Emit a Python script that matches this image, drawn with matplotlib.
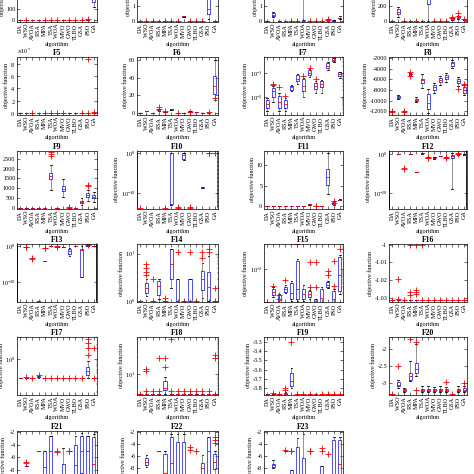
import matplotlib
matplotlib.use('Agg')
import matplotlib.pyplot as plt
from matplotlib.ticker import FixedLocator, ScalarFormatter, LogLocator, NullFormatter, FuncFormatter

plt.rcParams['font.family'] = ['Liberation Serif', 'DejaVu Serif']
plt.rcParams['mathtext.fontset'] = 'stix'

ALGS = ['DA', 'WSO', 'AVOA', 'RSA', 'MPA', 'TSA', 'WOA', 'MVO', 'GWO', 'TLBO', 'GSA', 'PSO', 'GA']

# box stats per algorithm: (whisker low, q1, median, q3, whisker high); None = no box in view
Z = (0, 0, 0, 0, 0)

F1_box = [Z, Z, Z, Z, Z, Z, Z, Z, Z, Z, Z, Z, (120, 170, 230, 300, 420)]
F1_out = [[], [0], [], [], [0], [0], [0], [], [0], [0], [0], [8], []]

F2_box = [Z, Z, Z, Z, Z, Z, Z, (0.25, 0.28, 0.3, 0.33, 0.36), Z, Z, Z, (0.1, 0.45, 0.8, 2.2, 3.6), Z]
F2_out = [[], [0], [0], [], [0], [0], [0], [], [0], [0], [0], [], []]

F3_box = [Z, (0.25, 0.32, 0.4, 0.5, 0.6), Z, Z, Z, Z, (0, 0, 0.02, 0.05, 4.5), Z, Z, Z,
          (0.03, 0.04, 0.05, 0.07, 0.1), (0.02, 0.025, 0.03, 0.035, 0.04), (0.15, 0.18, 0.2, 0.23, 0.3)]
F3_out = [[], [], [], [], [0], [0], [], [0], [0], [0], [0.08, 0.12], [], []]

F4_box = [Z, (60, 90, 120, 160, 190), Z, Z, Z, Z, (0, 230, 400, 600, 750), Z, Z, Z,
          (15, 20, 30, 40, 50), (30, 40, 50, 60, 70), (15, 18, 20, 25, 30)]
F4_out = [[], [], [0], [], [0], [], [], [0], [0], [0], [40, 55], [75, 110], [30]]

F5_box = [Z, Z, Z, Z, Z, Z, Z, Z, Z, Z, Z, Z, Z]
F5_out = [[], [], [0.05e7], [], [0.05e7], [0.05e7], [0.05e7], [0.05e7], [], [], [0.05e7],
          [0.1e7, 8.7e7], [0.2e7]]

F6_box = [Z, (2, 2, 2.5, 3, 3), Z, (3, 3.5, 4, 4.5, 5), (1, 1, 1, 1, 1), (4, 4, 4.5, 5, 5), Z, Z,
          (1, 1, 1.5, 2, 2), (1, 1, 1.2, 1.5, 1.5), Z, Z, (15, 22, 31, 42, 60)]
F6_out = [[], [], [], [5, 6.5], [2], [], [0.5], [], [1], [], [], [1.2], [17]]

F7_box = [(2.5e-3, 3.3e-3, 5e-3, 7.4e-3, 9e-3), (6e-3, 0.01, 0.017, 0.0246, 0.03),
          (2.5e-3, 3.3e-3, 6e-3, 0.011, 0.014), (2.5e-3, 3.3e-3, 4.8e-3, 7.4e-3, 9e-3),
          (0.018, 0.02, 0.025, 0.03, 0.033), (0.035, 0.045, 0.06, 0.082, 0.09),
          (0.01, 0.017, 0.03, 0.055, 0.065), (0.07, 0.082, 0.1, 0.135, 0.15),
          (0.015, 0.022, 0.03, 0.037, 0.045), (0.015, 0.025, 0.035, 0.045, 0.05),
          (0.14, 0.165, 0.21, 0.27, 0.3), (0.3, 0.33, 0.38, 0.45, 0.47), (0.065, 0.074, 0.09, 0.11, 0.12)]
F7_out = [[], [0.033, 0.036], [0.025], [0.011], [], [], [0.074], [0.165], [0.055], [], [], [0.55], []]

F8_box = [(-12050, -12020, -12000, -11980, -11950), (-9700, -9500, -9300, -9150, -9000),
          (-12050, -12020, -12000, -11980, -11950), (-5100, -5050, -5000, -4950, -4900),
          (-10300, -10050, -9800, -9600, -9400), (-7600, -6600, -6200, -5900, -5000),
          (-12400, -11500, -10500, -8700, -7800), (-8500, -7950, -7500, -7100, -6700),
          (-7000, -6500, -6100, -5700, -5300), (-6500, -6000, -5600, -5150, -4900),
          (-3900, -3500, -3000, -2700, -2400), (-7200, -6700, -6400, -6000, -5600),
          (-8900, -8500, -8000, -7400, -7000)]
F8_out = [[-12000, -12150], [], [-12000, -12150], [-4700, -5300], [], [], [], [], [], [], [],
          [-7800], [-6800, -7100]]

F9_box = [Z, Z, Z, Z, Z, (900, 1450, 1600, 1800, 2200), Z, (550, 850, 950, 1100, 1450), Z, Z,
          (150, 230, 300, 350, 500), (350, 530, 650, 750, 900), (300, 480, 570, 650, 800)]
F9_out = [[], [], [], [], [], [2650, 2750, 2850], [], [], [0, 30], [], [], [1100, 1150], []]

F10_box = [None, None, None, None, None, (1e-13, 1.8e-13, 0.9, 1.0, 1.0), None,
           (0.02, 0.04, 0.3, 1.0, 1.0), None, None, (2e-9, 2.2e-9, 2.5e-9, 2.8e-9, 3e-9),
           (0.8, 0.9, 1.0, 1.0, 1.0), None]
F10_out = [[1.5e-14], [], [], [], [1.5e-14], [], [2e-14, 3e-14], [], [2e-14, 4e-14], [], [],
           [1.0, 1.1], [1.0]]

F11_box = [Z, Z, Z, Z, Z, Z, Z, (0.35, 0.4, 0.45, 0.5, 0.55), Z, Z, (3, 5.2, 7.2, 9, 13),
           (0.3, 0.5, 0.7, 0.9, 1.2), (1.4, 1.5, 1.55, 1.6, 1.7)]
F11_out = [[], [], [], [], [], [], [], [], [0, 0.1], [], [], [0.8, 1.3], []]

F12_box = [None, (0.8, 0.9, 1.0, 1.0, 1.0), None, (0.8, 0.9, 1.0, 1.0, 1.0),
           (5e-10, 6e-10, 7e-10, 8e-10, 9e-10), (1.5, 1.8, 2.0, 2.2, 2.5),
           (0.005, 0.008, 0.01, 0.013, 0.02), (0.003, 0.006, 0.01, 0.02, 0.04),
           (0.05, 0.07, 0.1, 0.12, 0.15), (0.005, 0.008, 0.01, 0.013, 0.02),
           (1e-18, 0.01, 0.08, 0.5, 2.0), (0.5, 0.8, 1.0, 1.5, 2.0), (0.3, 0.4, 0.5, 0.6, 0.7)]
F12_out = [[], [], [2e-8, 1e-7], [], [], [], [0.005, 0.02, 0.01], [], [], [0.01, 0.02], [],
           [1.0, 3.0], []]

F13_box = [None, (0.2, 0.25, 0.3, 0.35, 0.4), None, (2e-31, 2.5e-31, 3e-31, 4e-31, 5e-31),
           (3e-9, 4e-9, 5e-9, 6e-9, 7e-9), (0.9, 1.0, 1.0, 1.0, 1.1), (0.15, 0.2, 0.25, 0.3, 0.35),
           (0.2, 0.25, 0.3, 0.35, 0.4), (3e-6, 4e-5, 1e-3, 0.02, 0.05), (0.9, 1.0, 1.0, 1.0, 1.1),
           (5e-18, 6e-18, 0.01, 0.03, 1.0), (1.0, 1.5, 2.0, 2.5, 3.0), (0.9, 1.0, 1.0, 1.0, 1.1)]
F13_out = [[], [0.3, 0.25], [6e-8, 1.5e-7], [], [0.1, 0.08], [], [0.5, 0.6], [], [], [], [],
           [5, 8], []]

F14_box = [(0.998, 0.998, 0.998, 0.998, 0.998), (1.3, 1.5, 1.9, 2.4, 3.0),
           (0.998, 0.998, 0.998, 0.998, 0.998), (1.1, 1.33, 2.15, 2.7, 3.0),
           (0.998, 0.998, 0.998, 0.998, 0.998), (1.9, 2.9, 6.0, 12.7, 12.7),
           (0.998, 0.998, 0.998, 2.9, 2.9), (0.998, 0.998, 0.998, 0.998, 0.998),
           (0.998, 0.998, 0.998, 2.9, 2.9), (0.998, 0.998, 0.998, 0.998, 0.998),
           (1.2, 1.7, 3.0, 4.4, 6.5), (0.998, 0.998, 2.0, 4.2, 9.0), (0.998, 0.998, 0.998, 0.998, 0.998)]
F14_out = [[], [3.5, 4.2, 4.9, 6.2], [2.9, 1.0], [], [1.15, 1.0], [], [10.8], [1.0], [10.8], [1.0],
           [8.0, 11.0], [11.0, 12.7], [1.95, 1.0]]

F15_box = [None, (1.6e-3, 1.8e-3, 2.2e-3, 2.7e-3, 3.0e-3), (1.13e-3, 1.15e-3, 1.3e-3, 1.8e-3, 1.9e-3),
           (2.0e-3, 2.2e-3, 2.6e-3, 3.0e-3, 3.4e-3), (1.2e-3, 1.35e-3, 2.0e-3, 3.9e-3, 4.5e-3),
           (1.2e-3, 1.35e-3, 2.6e-3, 0.0174, 0.02), (1.2e-3, 1.35e-3, 1.9e-3, 2.7e-3, 3.5e-3),
           (1.4e-3, 1.55e-3, 1.9e-3, 2.3e-3, 2.5e-3), (1.12e-3, 1.13e-3, 1.2e-3, 1.35e-3, 1.4e-3),
           (1.12e-3, 1.13e-3, 1.5e-3, 2.7e-3, 3.0e-3), (2.8e-3, 3.0e-3, 3.5e-3, 4.3e-3, 4.6e-3),
           (1.12e-3, 1.13e-3, 1.4e-3, 2.3e-3, 2.6e-3), (1.9e-3, 2.3e-3, 7e-3, 0.022, 0.025)]
F15_out = [[1.15e-3], [3.2e-3], [1.8e-3, 1.4e-3], [4.9e-3], [], [0.052], [], [0.016, 3.0e-3],
           [0.016, 3.0e-3], [], [8.8e-3, 6.7e-3], [0.017, 3.2e-3], [0.038]]

F16_box = [(-1.0316, -1.0316, -1.0316, -1.0316, -1.0316)] * 13
F16_out = [[-1.0316], [-1.0195, -1.0306], [-1.0316], [-1.027, -1.0285, -1.0],
           [-1.0255, -1.0268, -1.028, -1.0], [-1.0, -1.0316], [-1.0316], [-1.0316], [-1.0316],
           [-1.0316], [-1.0316], [-1.0316], [-1.0316]]

F17_box = [(0.398, 0.398, 0.398, 0.398, 0.398), (0.398, 0.398, 0.398, 0.398, 0.398),
           (0.398, 0.398, 0.398, 0.398, 0.398), (0.40, 0.41, 0.42, 0.43, 0.44),
           (0.398, 0.398, 0.398, 0.398, 0.398), (0.398, 0.398, 0.398, 0.398, 0.398),
           (0.398, 0.398, 0.398, 0.398, 0.398), (0.398, 0.398, 0.398, 0.398, 0.398),
           (0.398, 0.398, 0.398, 0.398, 0.398), (0.398, 0.398, 0.398, 0.398, 0.398),
           (0.398, 0.398, 0.398, 0.398, 0.398), (0.4, 0.45, 0.55, 0.68, 0.9),
           (0.398, 0.398, 0.398, 0.398, 0.398)]
F17_out = [[], [0.42], [0.398], [0.45], [0.398], [0.398], [0.398], [0.398], [0.398], [0.398],
           [0.398], [1.26, 1.74, 2.28, 2.75], [0.398, 1.74]]

F18_box = [(3.0, 3.0, 3.0, 3.0, 3.0), (3.0, 3.0, 3.0, 3.0, 3.0), (3.0, 3.0, 3.0, 3.0, 3.0),
           (3.0, 3.0, 3.0, 3.0, 3.0), (3.0, 3.75, 4.3, 6.7, 8.3), (3.0, 3.0, 3.0, 3.0, 3.0),
           (3.0, 3.0, 3.0, 3.0, 3.0), (3.0, 3.0, 3.0, 3.0, 3.0), (3.0, 3.0, 3.0, 3.0, 3.0),
           (3.0, 3.0, 3.0, 3.0, 3.0), (3.0, 3.0, 3.0, 3.0, 3.0), (3.0, 3.0, 3.0, 3.0, 3.0),
           (3.0, 3.0, 3.0, 3.0, 3.0)]
F18_out = [[3.0], [3.5, 12.6, 14], [3.5], [28, 3.5], [28, 15.8], [89, 3.5], [3.5], [3.5], [3.5],
           [3.5], [3.5], [3.5], [28, 33, 3.0]]

F19_box = [(-3.8628, -3.8628, -3.8628, -3.8628, -3.8628), (-3.8628, -3.8628, -3.8628, -3.8628, -3.8628),
           (-3.8628, -3.8628, -3.8628, -3.8628, -3.8628), (-3.862, -3.86, -3.855, -3.85, -3.84),
           (-3.80, -3.77, -3.72, -3.63, -3.58), (-3.8628, -3.8628, -3.8628, -3.8628, -3.8628),
           (-3.8628, -3.8628, -3.8628, -3.8628, -3.8628), (-3.8628, -3.8628, -3.8628, -3.8628, -3.8628),
           (-3.8628, -3.8628, -3.8628, -3.8628, -3.8628), (-3.8628, -3.8628, -3.8628, -3.8628, -3.8628),
           (-3.8628, -3.8628, -3.8628, -3.8628, -3.8628), (-3.8628, -3.8628, -3.8628, -3.8628, -3.8628),
           (-3.8628, -3.8628, -3.8628, -3.8628, -3.8628)]
F19_out = [[], [-3.845], [-3.855], [-3.82, -3.80], [-3.3], [-3.855], [-3.855], [-3.855], [],
           [-3.855], [-3.855], [-3.855], [-3.855]]

F20_box = [(-3.322, -3.322, -3.322, -3.322, -3.322), (-3.15, -3.1, -3.05, -2.98, -2.9),
           (-3.25, -3.22, -3.2, -3.18, -3.15), (-2.95, -2.9, -2.8, -2.7, -2.35),
           (-2.78, -2.7, -2.6, -2.4, -1.85), (-3.25, -3.22, -3.2, -3.18, -3.1),
           (-3.25, -3.22, -3.2, -3.17, -3.1), (-3.25, -3.22, -3.2, -3.17, -3.12),
           (-3.25, -3.22, -3.2, -3.18, -3.1), (-3.25, -3.22, -3.2, -3.18, -3.12),
           (-3.322, -3.322, -3.322, -3.322, -3.322), (-3.25, -3.22, -3.2, -3.16, -3.1),
           (-3.25, -3.22, -3.2, -3.15, -3.1)]
F20_out = [[-3.32], [-2.5], [], [-1.72], [-1.8, -3.2], [], [], [], [], [-2.98], [-3.32], [], [-3.0]]

F21_box = [(-10.15, -10.15, -10.15, -10.15, -10.15), (-7.45, -7.42, -7.4, -7.38, -7.35),
           (-10.15, -10.15, -10.15, -10.15, -10.15), (-5.06, -5.06, -5.06, -5.06, -5.06),
           (-10.15, -10.15, -7.6, -5.06, -5.06), (-10.15, -10.15, -5.06, -2.68, -2.63),
           (-10.15, -10.15, -10.15, -10.15, -10.15), (-10.15, -10.15, -10.1, -7.0, -4.5),
           (-10.15, -10.15, -10.15, -10.15, -10.15), (-10.15, -10.0, -7.2, -4.1, -2.63),
           (-10.15, -8.4, -5.06, -2.68, -2.2), (-10.15, -10.15, -5.06, -2.63, -2.63),
           (-10.15, -8.8, -7.0, -2.75, -2.3)]
F21_out = [[], [-6.7, -6.9], [], [], [], [], [-5.06, -5.1], [], [-5.06, -5.0], [], [], [], []]

F22_box = [(-10.4, -10.4, -10.4, -10.4, -10.4), (-7.8, -7.5, -7.0, -6.3, -5.8),
           (-10.4, -10.4, -10.4, -10.4, -10.4), (-5.09, -5.09, -5.09, -5.09, -5.09),
           (-10.4, -10.4, -8.8, -5.6, -5.09), (-10.4, -10.4, -7.2, -2.77, -2.3),
           (-10.4, -10.4, -10.4, -3.72, -2.4), (-10.4, -10.4, -10.3, -3.72, -2.3),
           (-10.4, -10.4, -10.4, -10.4, -10.4), (-10.4, -10.4, -10.4, -10.4, -10.4),
           (-10.4, -10.0, -8.0, -7.2, -5.8), (-10.4, -10.4, -5.09, -2.77, -2.77),
           (-9.0, -8.2, -7.0, -5.7, -5.1)]
F22_out = [[], [], [], [], [], [], [], [], [-4.5, -5.0], [-5.09], [], [], [-2.8, -3.3, -3.8]]

F23_box = [None, (-8.0, -7.8, -7.5, -7.3, -6.6), None, (-5.13, -5.13, -5.13, -5.13, -5.13),
           (-10.5, -10.5, -10.5, -8.4, -8.4), (-10.5, -10.5, -10.4, -4.5, -3.0),
           (-10.5, -10.5, -10.4, -6.3, -2.4), (-10.5, -10.5, -10.5, -10.5, -10.5), None,
           (-10.5, -10.5, -10.4, -7.6, -7.6), (-10.5, -10.5, -10.5, -10.5, -10.5),
           (-10.5, -10.5, -10.4, -3.3, -2.8), (-10.5, -10.5, -7.3, -3.4, -2.9)]
F23_out = [[], [], [], [-5.0], [-5.13, -5.2], [], [], [-5.13, -5.2], [], [-4.6, -5.1], [-5.6], [], []]

BOXES = [F1_box, F2_box, F3_box, F4_box, F5_box, F6_box, F7_box, F8_box, F9_box, F10_box,
         F11_box, F12_box, F13_box, F14_box, F15_box, F16_box, F17_box, F18_box, F19_box,
         F20_box, F21_box, F22_box, F23_box]
OUTS = [F1_out, F2_out, F3_out, F4_out, F5_out, F6_out, F7_out, F8_out, F9_out, F10_out,
        F11_out, F12_out, F13_out, F14_out, F15_out, F16_out, F17_out, F18_out, F19_out,
        F20_out, F21_out, F22_out, F23_out]

# axis setup per panel: (scale, ylim, yticks)
AXES_CFG = [
    ('linear', (-15, 510), [0, 100, 200, 300, 400, 500]),
    ('linear', (-0.07, 3.8), [0, 1, 2, 3]),
    ('linear', (-0.07, 3.8), [0, 1, 2, 3]),
    ('linear', (-10, 760), [0, 200, 400, 600]),
    ('sci', (-0.3e7, 9.1e7), [0, 2e7, 4e7, 6e7, 8e7]),
    ('linear', (-2, 63), [0, 20, 40, 60]),
    ('log', (10 ** -2.78, 10 ** -0.3), [1e-2, 1e-1]),
    ('linear', (-12700, -1800), [-12000, -10000, -8000, -6000, -4000, -2000]),
    ('linear', (-60, 2900), [0, 500, 1000, 1500, 2000, 2500]),
    ('log', (1e-14, 3), [1e-10, 1e0]),
    ('linear', (-0.7, 13.5), [0, 5, 10]),
    ('log', (10 ** -28.2, 10 ** 1.5), [1e-20, 1e0]),
    ('log', (10 ** -31.1, 10 ** 1.1), [1e-20, 1e0]),
    ('log', (0.97, 16), [1e0, 1e1]),
    ('log', (10 ** -2.95, 10 ** -1.27), [1e-2]),
    ('linear', (-1.0325, -0.9995), [-1.03, -1.02, -1.01, -1.0]),
    ('log', (0.17, 3.0), [1e0]),
    ('log', (2.8, 100), [1e1]),
    ('linear', (-3.87, -3.25), [-3.8, -3.7, -3.6, -3.5, -3.4, -3.3]),
    ('linear', (-3.35, -1.65), [-3.0, -2.5, -2.0]),
    ('linear', (-11.0, -1.85), [-10, -8, -6, -4, -2]),
    ('linear', (-11.5, -1.83), [-10, -8, -6, -4, -2]),
    ('linear', (-11.5, -1.83), [-10, -8, -6, -4, -2]),
]

W, H = 474, 474
COL_LEFT = [17, 137, 264, 389]
COL_W = [80, 81, 79, 78]
ROW_TOP = [-36, 57, 151, 244, 337, 431]
AX_H = 58

FS = 4.4

fig = plt.figure(figsize=(W / 100, H / 100), dpi=100)

for k in range(23):
    r, c = divmod(k, 4)
    ax = fig.add_axes([COL_LEFT[c] / W, 1 - (ROW_TOP[r] + AX_H) / H, COL_W[c] / W, AX_H / H])
    scale, ylim, yticks = AXES_CFG[k]
    if scale == 'log':
        ax.set_yscale('log')

    stats, pos = [], []
    for i, (b, o) in enumerate(zip(BOXES[k], OUTS[k])):
        if b is None:
            if o:
                ax.plot([i + 1] * len(o), o, '+', color='red', ms=5, mew=0.6)
            continue
        lo, q1, med, q3, hi = b
        stats.append(dict(whislo=lo, q1=q1, med=med, q3=q3, whishi=hi, fliers=o))
        pos.append(i + 1)

    ax.bxp(stats, positions=pos, widths=0.5, capwidths=0.25,
           boxprops=dict(color='#3333ff', lw=0.6),
           medianprops=dict(color='red', lw=0.6),
           whiskerprops=dict(color='black', lw=0.6, ls=(0, (1.2, 1.2))),
           capprops=dict(color='black', lw=0.6),
           flierprops=dict(marker='+', markeredgecolor='red', markersize=5, markeredgewidth=0.6,
                           linestyle='none'))

    ax.set_xlim(0.5, 13.5)
    ax.set_xticks(range(1, 14))
    ax.set_xticklabels(ALGS, rotation=90, fontsize=FS)
    if scale == 'log':
        ax.yaxis.set_major_locator(FixedLocator(yticks))
        ax.yaxis.set_minor_locator(LogLocator(subs=range(2, 10), numticks=40))
        ax.yaxis.set_minor_formatter(NullFormatter())
    else:
        ax.set_yticks(yticks)
    if scale == 'sci':
        fmt = ScalarFormatter(useMathText=True)
        fmt.set_powerlimits((0, 0))
        ax.yaxis.set_major_formatter(fmt)
        ax.yaxis.get_offset_text().set_fontsize(FS)
    elif scale == 'linear':
        ax.yaxis.set_major_formatter(FuncFormatter(lambda v, p: '%g' % v))
    ax.set_ylim(*ylim)

    ax.tick_params(direction='in', length=2, width=0.4, top=True, right=True, pad=1.2, labelsize=FS)
    ax.tick_params(which='minor', direction='in', length=1, width=0.3, right=True)
    for s in ax.spines.values():
        s.set_linewidth(0.5)

    ax.set_title('F%d' % (k + 1), fontsize=5.5, fontweight='bold', pad=1.2)
    ax.set_ylabel('objective function', fontsize=FS, labelpad=1)
    ax.set_xlabel('algorithm', fontsize=FS, labelpad=1)

fig.savefig('out.png', dpi=100)
